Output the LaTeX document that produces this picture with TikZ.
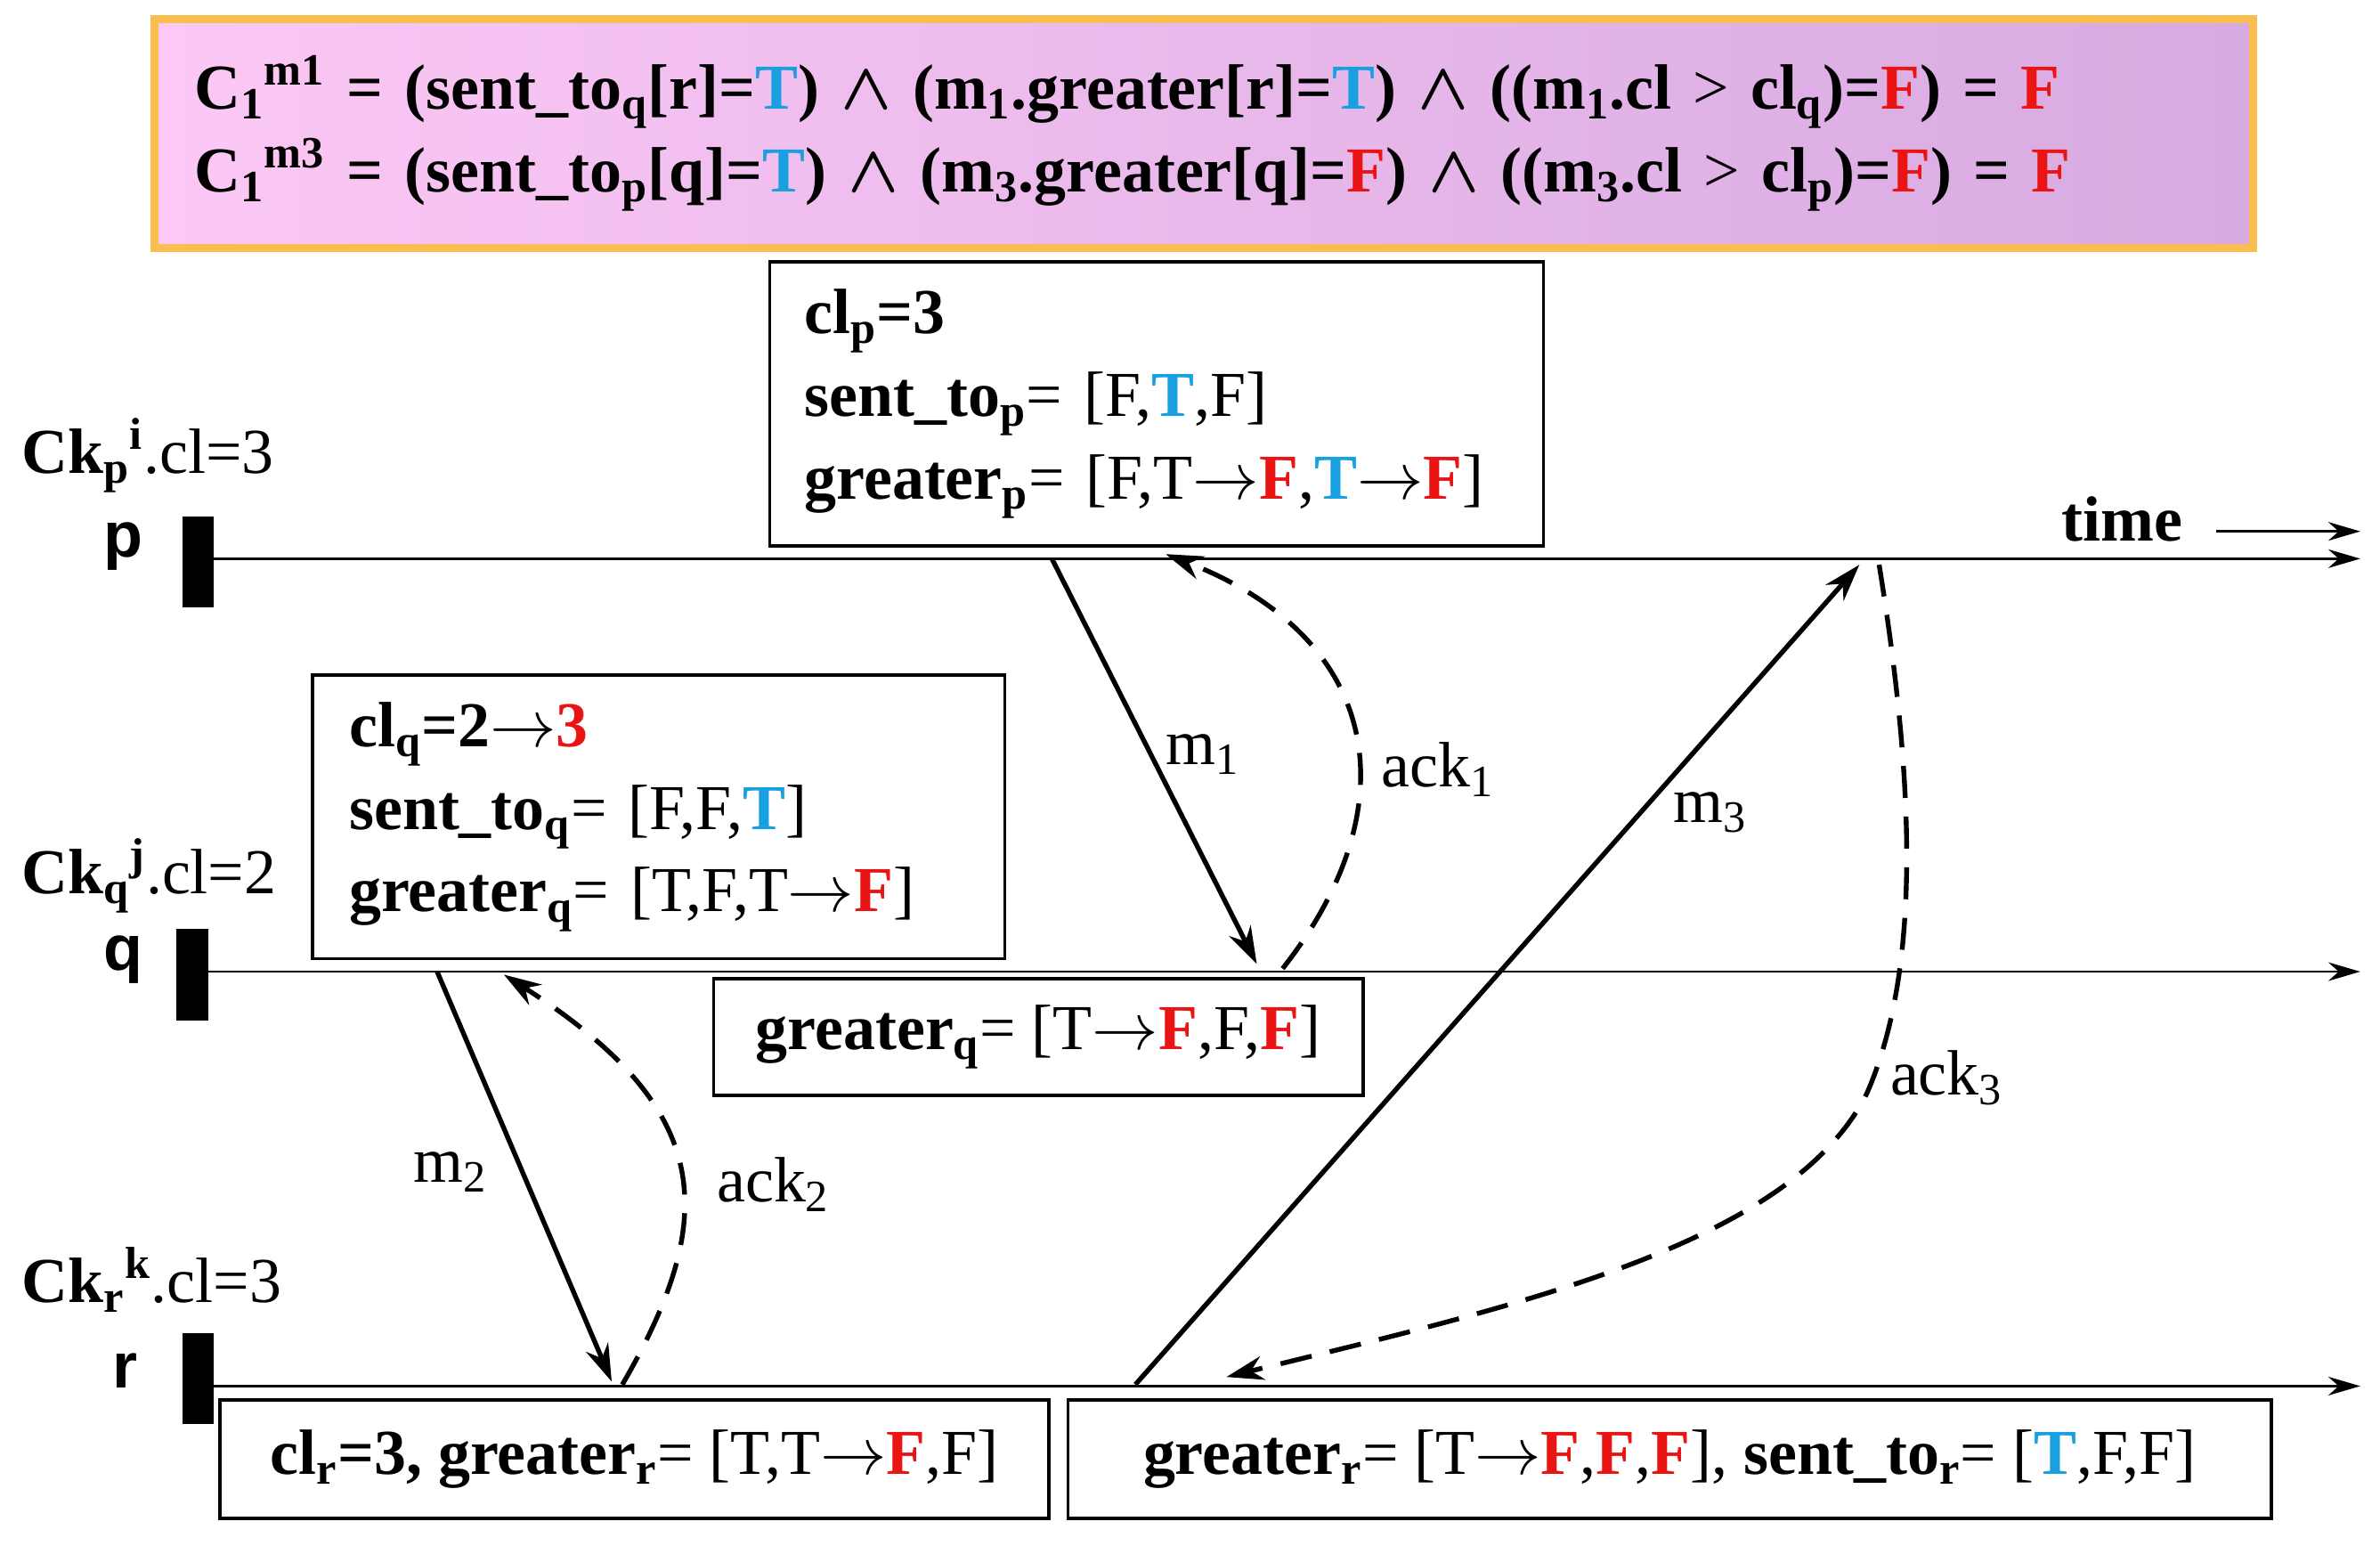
\documentclass[tikz,border=0pt]{standalone}
\usepackage{fontspec}
\setmainfont{Liberation Serif}
\setsansfont{Liberation Sans}
\usetikzlibrary{arrows.meta}
\definecolor{cT}{RGB}{25,160,225}
\definecolor{cF}{RGB}{235,20,20}
\definecolor{obord}{RGB}{250,190,80}
\definecolor{pinkL}{RGB}{252,200,245}
\definecolor{pinkR}{RGB}{215,170,225}
\newcommand{\T}{\textcolor{cT}{T}}
\newcommand{\F}{\textcolor{cF}{F}}
\newcommand{\sbs}[1]{\textsubscript{#1}}
\newcommand{\sps}[1]{\textsuperscript{#1}}
\newcommand{\ar}{$\rightarrow$}
\newcommand{\AND}{$\boldsymbol{\wedge}$}
\usepackage{amsmath}
\begin{document}
\begin{tikzpicture}[x=0.02cm,y=-0.02cm,
  every node/.style={font=\fontsize{24}{31}\selectfont},
  box/.style={draw=black,line width=1.2pt,fill=white,inner ysep=0pt},
  lbl/.style={anchor=west,inner sep=0pt},
  tline/.style={line width=0.9pt,-{Stealth[length=12pt,width=7pt]}},
  msg/.style={line width=1.8pt,-{Stealth[length=14pt,width=9pt]}},
  ack/.style={line width=1.8pt,dash pattern=on 12pt off 7pt,-{Stealth[length=14pt,width=9pt]}},
  bar/.style={fill=black,draw=none}]
\useasboundingbox (0,0) rectangle (1568,1018);
% top box
\node[draw=obord,line width=3pt,left color=pinkL,right color=pinkR,minimum width=27.66cm,minimum height=3.02cm,text width=26.6cm,align=left,inner xsep=0.5cm] (top) at (793,88)
 {\bfseries C\sbs{1}\sps{m1} = (sent\_to\sbs{q}[r]=\T) \AND{} (m\sbs{1}.greater[r]=\T) \AND{} ((m\sbs{1}.cl {\mdseries >} cl\sbs{q})=\F) = \F\\
  \bfseries C\sbs{1}\sps{m3} = (sent\_to\sbs{p}[q]=\T) \AND{} (m\sbs{3}.greater[q]=\F) \AND{} ((m\sbs{3}.cl {\mdseries >} cl\sbs{p})=\F) = \F};
% timelines
\coordinate (p0) at (140,368); \coordinate (p1) at (1555,368);
\coordinate (q0) at (137,640); \coordinate (q1) at (1555,640);
\coordinate (r0) at (141,913); \coordinate (r1) at (1555,913);
\draw[tline] (p0) -- (p1);
\draw[tline] (q0) -- (q1);
\draw[tline] (r0) -- (r1);
\fill[bar] (120,340) rectangle (141,400);
\fill[bar] (116,612) rectangle (137,672);
\fill[bar] (120,878) rectangle (141,938);
\node[lbl] (tm) at (1358,342) {\bfseries time};
\coordinate (ts) at (1460,350);
\coordinate (ta) at (1555,350);
\draw[tline] (ts) -- (ta);
\node[lbl] (ckp) at (14,300) {\bfseries Ck\sbs{p}\sps{i}\mdseries.cl=3};
\node[lbl] (lp) at (68,360) {\sffamily\bfseries p};
\node[lbl] (ckq) at (14,577) {\bfseries Ck\sbs{q}\sps{j}\mdseries.cl=2};
\node[lbl] (lq) at (68,632) {\sffamily\bfseries q};
\node[lbl] (ckr) at (14,843) {\bfseries Ck\sbs{r}\sps{k}\mdseries.cl=3};
\node[lbl] (lr) at (74,903) {\sffamily\bfseries r};
% messages
\coordinate (m1s) at (693,368); \coordinate (m1e) at (828,635);
\coordinate (a1s) at (845,638); \coordinate (a1e) at (768,365);
\coordinate (m2s) at (288,640); \coordinate (m2e) at (403,910);
\coordinate (a2s) at (410,912); \coordinate (a2e) at (332,642);
\coordinate (m3s) at (748,912); \coordinate (m3e) at (1225,372);
\coordinate (a3s) at (1238,372); \coordinate (a3e) at (808,907);
\draw[msg] (m1s) -- (m1e);
\draw[ack] (a1s) .. controls (930,530) and (910,420) .. (a1e);
\draw[msg] (m2s) -- (m2e);
\draw[ack] (a2s) .. controls (475,800) and (470,730) .. (a2e);
\draw[msg] (m3s) -- (m3e);
\draw[ack] (a3s) .. controls (1262,520) and (1265,640) .. (1230,720) .. controls (1180,820) and (1000,860) .. (a3e);
\node[lbl] (lm1) at (768,497) {m\sbs{1}};
\node[lbl] (la1) at (910,507) {ack\sbs{1}};
\node[lbl] (lm2) at (272,772) {m\sbs{2}};
\node[lbl] (la2) at (472,780) {ack\sbs{2}};
\node[lbl] (lm3) at (1102,535) {m\sbs{3}};
\node[lbl] (la3) at (1245,710) {ack\sbs{3}};
% state boxes
\node[box,minimum width=10.2cm,minimum height=3.74cm,text width=9.28cm,inner xsep=0.46cm,align=left] (bp) at (762,266)
 {\bfseries cl\sbs{p}=3\\ \bfseries sent\_to\sbs{p}\mdseries= [F,\textbf{\T},F]\\ \bfseries greater\sbs{p}\mdseries= [F,T\ar\textbf{\F},\textbf{\T}\ar\textbf{\F}]};
\node[box,minimum width=9.12cm,minimum height=3.74cm,text width=8.16cm,inner xsep=0.48cm,align=left] (bq) at (434,538)
 {\bfseries cl\sbs{q}=2\ar\textcolor{cF}{3}\\ \bfseries sent\_to\sbs{q}\mdseries= [F,F,\textbf{\T}]\\ \bfseries greater\sbs{q}\mdseries= [T,F,T\ar\textbf{\F}]};
\node[box,minimum width=8.56cm,minimum height=1.54cm] (bgq) at (684,683)
 {\bfseries greater\sbs{q}\mdseries= [T\ar\textbf{\F},F,\textbf{\F}]};
\node[box,minimum width=10.92cm,minimum height=1.56cm] (br1) at (418,961)
 {\bfseries cl\sbs{r}=3, greater\sbs{r}\mdseries= [T,T\ar\textbf{\F},F]};
\node[box,minimum width=15.86cm,minimum height=1.56cm] (br2) at (1100,961)
 {\bfseries greater\sbs{r}\mdseries= [T\ar\textbf{\F},\textbf{\F},\textbf{\F}], \bfseries sent\_to\sbs{r}\mdseries= [\textbf{\T},F,F]};
\end{tikzpicture}
\end{document}
